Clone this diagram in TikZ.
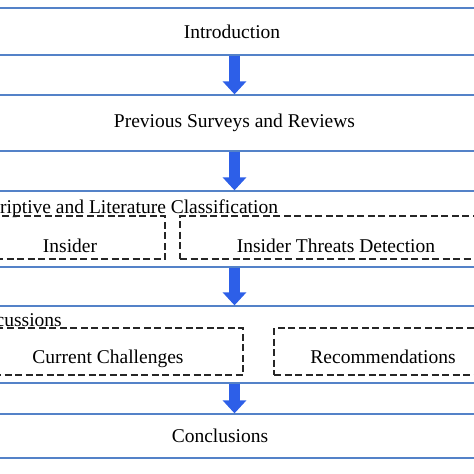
\documentclass[tikz,border=0pt]{standalone}
\usepackage{fontspec}
\setmainfont{Liberation Serif}
\usetikzlibrary{arrows.meta}

\definecolor{bandblue}{RGB}{84,130,200}
\definecolor{flowblue}{RGB}{45,95,232}

\begin{document}
\begin{tikzpicture}[x=1pt, y=-1pt, font=\fontsize{19.5}{23}\selectfont,
	band/.style={draw=bandblue, line width=1.3pt, rectangle, minimum width=760pt},
	part/.style={draw=black!85, dash pattern=on 7pt off 3.5pt, line width=1.3pt, rectangle},
	flow/.style={draw=flowblue, line width=11pt, -{Triangle[width=23pt,length=13pt]}}]

	\useasboundingbox (0,0) rectangle (474,474);

	\def\xaxis{234.5}

	% section bands
	\node [band, minimum height=47pt] at (232,31.5) (intro){Introduction};
	\node [band, minimum height=56pt] at (234.5,123) (prev){Previous Surveys and Reviews};
	\node [band, minimum height=76pt] at (234,229) (desc){};
	\node [band, minimum height=77pt] at (234,344.5) (disc){};
	\node [band, minimum height=44pt] at (220,436) (concl){Conclusions};

	% band titles
	\node [anchor=base west, inner sep=0pt] at (0,213) (desc_title){riptive and Literature Classification};
	\node [anchor=base east, inner sep=0pt] at (62,326) (disc_title){cussions};

	% dashed sub-parts
	\node [part, minimum width=190pt, minimum height=43pt, text height=29pt, text depth=0pt] at (70,237.5) (insider){Insider};
	\node [part, minimum width=312pt, minimum height=43pt, text height=29pt, text depth=0pt] at (336,237.5) (detection){Insider Threats Detection};
	\node [part, minimum width=270pt, minimum height=47pt, text height=23pt, text depth=0pt] at (108,351.5) (challenges){Current Challenges};
	\node [part, minimum width=218pt, minimum height=47pt, text height=23pt, text depth=0pt] at (383,351.5) (recommend){Recommendations};

	% arrows between bands
	\coordinate (axis) at (\xaxis,0);
	\foreach \from/\to in {intro/prev,prev/desc,desc/disc,disc/concl}
	{
		\draw [flow] (\from.south -| axis) -- (\to.north -| axis);
	}

\end{tikzpicture}
\end{document}
